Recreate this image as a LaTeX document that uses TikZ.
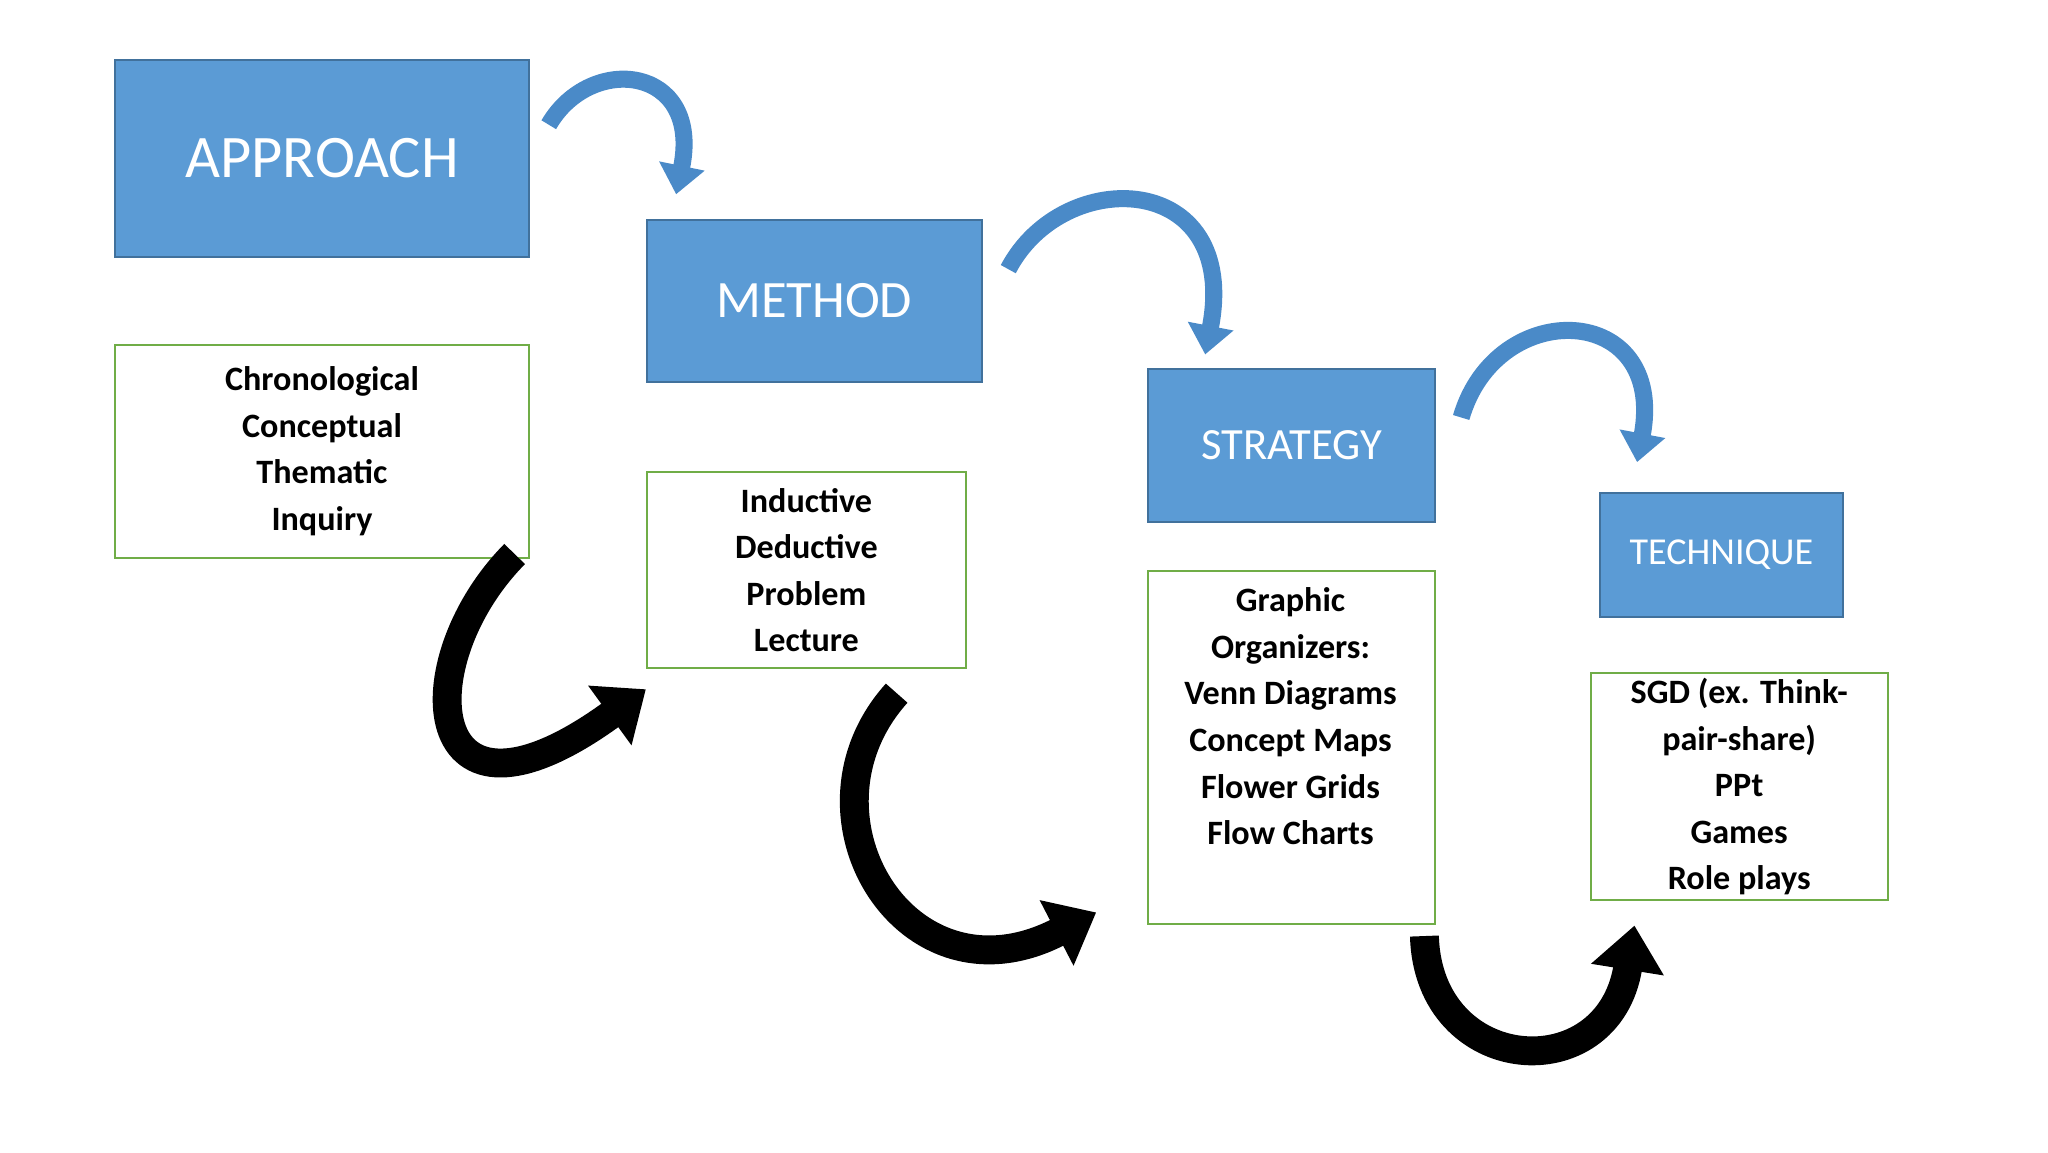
\documentclass[tikz,border=0pt]{standalone}
\usepackage{fontspec}
\setmainfont{Carlito}
\usetikzlibrary{arrows.meta}
\definecolor{bfill}{HTML}{5B9BD5}
\definecolor{bline}{HTML}{41719C}
\definecolor{garr}{HTML}{4A8AC8}
\definecolor{gline}{HTML}{70AD47}
\begin{document}
\begin{tikzpicture}[x=1pt,y=-1pt,
 hdr/.style={draw=bline,line width=1.5pt,fill=bfill,text=white,anchor=north west,inner sep=0pt,align=center},
 lst/.style={draw=gline,line width=1.5pt,anchor=north west,inner sep=0pt,align=center,font=\fontsize{26}{35.5}\selectfont\bfseries},
 barr/.style={draw=garr,line width=13pt,-{Triangle[width=34pt,length=22pt]}},
 karr/.style={draw=black,line width=22pt,-{Triangle[width=54pt,length=34pt]}}]
\useasboundingbox (0,0) rectangle (1560,878);
\node[hdr,minimum width=315pt,minimum height=150pt,font=\fontsize{46}{50}\selectfont] (ap) at (87,45) {APPROACH};
\node[lst,minimum width=315pt,minimum height=162pt] (l1) at (87,262) {Chronological\\Conceptual\\Thematic\\Inquiry};
\node[hdr,minimum width=255pt,minimum height=123pt,font=\fontsize{40}{44}\selectfont] (me) at (492,167) {METHOD};
\node[lst,minimum width=243pt,minimum height=149pt] (l2) at (492,359) {Inductive\\Deductive\\Problem\\Lecture};
\node[hdr,minimum width=218pt,minimum height=117pt,font=\fontsize{34}{38}\selectfont] (st) at (874,280) {STRATEGY};
\node[lst,minimum width=218pt,minimum height=269pt,anchor=north west] (l3) at (874,434) {};
\node[lst,draw=none,anchor=north] at (983,447) {Graphic\\Organizers:\\Venn Diagrams\\Concept Maps\\Flower Grids\\Flow Charts};
\node[hdr,minimum width=185pt,minimum height=94pt,font=\fontsize{29}{32}\selectfont] (te) at (1218,375) {TECHNIQUE};
\node[lst,minimum width=226pt,minimum height=173pt] (l4) at (1211,512) {SGD (ex. Think-\\pair-share)\\PPt\\Games\\Role plays};
\coordinate (a1s) at (418,95); \coordinate (a1e) at (515,148);
\coordinate (a2s) at (768,205); \coordinate (a2e) at (918,270);
\coordinate (a3s) at (1113,318); \coordinate (a3e) at (1247,352);
\draw[barr] (a1s) .. controls (450,40) and (535,50) .. (a1e);
\draw[barr] (a2s) .. controls (810,125) and (945,130) .. (a2e);
\draw[barr] (a3s) .. controls (1140,225) and (1270,230) .. (a3e);
\coordinate (b1s) at (392,422); \coordinate (b1e) at (492,525);
\coordinate (b2s) at (683,528); \coordinate (b2e) at (835,695);
\coordinate (b3s) at (1085,713); \coordinate (b3e) at (1245,705);
\draw[karr] (b1s) .. controls (310,505) and (320,650) .. (b1e);
\draw[karr] (b2s) .. controls (600,620) and (690,770) .. (b2e);
\draw[karr] (b3s) .. controls (1088,820) and (1225,830) .. (b3e);
\end{tikzpicture}
\end{document}
